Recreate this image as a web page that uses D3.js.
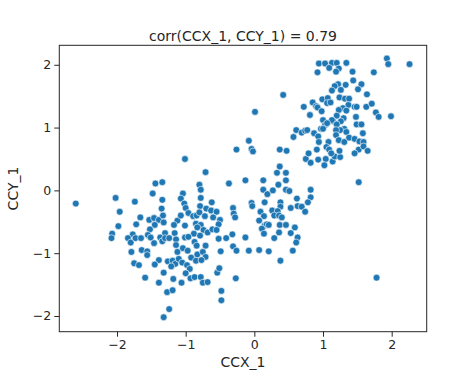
<!DOCTYPE html>
<html><head><meta charset="utf-8">
<script src="https://cdn.jsdelivr.net/npm/d3@7"></script>
<style>body{margin:0;background:#fff}svg{display:block}text{font-family:"DejaVu Sans",sans-serif}</style>
</head><body>
<script>
const title = "corr(CCX_1, CCY_1) = 0.79";
const xLabel = "CCX_1";
const yLabel = "CCY_1";
const xTicks = [-2, -1, 0, 1, 2];
const yTicks = [-2, -1, 0, 1, 2];
const xs = [
-2.60,-1.01,-0.26,-0.08,-0.71,-1.44,-1.34,-0.37,-0.13,-2.02,-1.74,-1.48,-1.34,-1.04,-1.07,-0.80,-0.78,-0.78,-0.62,-1.96,
-1.35,-1.02,-1.00,-0.79,-0.70,-0.63,-0.55,-0.31,-0.30,-0.28,-1.66,-1.53,-1.46,-1.39,-1.33,-1.32,-1.12,-1.17,-1.07,-0.96,
-0.89,-0.84,-0.80,-0.72,-0.60,-0.50,-0.52,-1.72,-1.98,-1.45,-1.52,-1.01,-0.85,-0.78,-0.83,-0.74,-0.68,-0.61,-0.55,-1.77,
-1.55,-1.30,-1.16,-0.88,-0.32,-2.07,-2.08,-1.84,-1.80,-1.73,-1.65,-1.51,-1.46,-1.37,-1.34,-1.30,-1.24,-1.14,-1.14,-1.01,
-0.96,-0.87,-0.79,-0.52,-0.41,-0.13,-1.79,-1.64,-1.56,-1.56,-1.12,-1.04,-0.97,-0.84,-0.71,-0.83,-0.75,-0.71,-0.92,-0.85,
-0.77,-0.49,-0.31,-0.26,-0.08,-1.75,-1.68,-1.39,-1.45,-1.26,-1.19,-1.15,-1.21,-1.10,-1.05,-0.98,-0.94,-1.00,-1.32,-1.59,
-1.39,-1.18,-1.06,-0.93,-0.87,-0.78,-0.75,-0.68,-0.54,-0.51,-0.27,-0.48,-0.48,-1.27,-1.19,-1.24,-1.32,
0.75,0.82,0.93,1.04,1.02,1.14,1.17,1.25,1.52,0.37,0.33,0.46,0.13,0.46,0.35,0.13,0.19,0.27,0.46,0.51,
0.82,0.82,0.62,0.78,-0.04,-0.03,0.15,0.38,0.38,0.53,0.63,0.69,0.74,0.09,0.26,0.34,0.29,0.36,0.40,0.14,
0.07,0.15,0.18,0.21,0.37,0.46,0.59,0.11,0.14,0.36,0.53,0.63,0.61,0.29,0.07,0.21,0.56,0.38,1.78,
0.94,1.03,1.13,1.20,1.34,1.09,1.23,1.19,0.92,1.43,1.74,1.93,1.95,2.26,1.44,1.22,1.17,1.33,1.56,1.51,
1.13,1.26,1.64,0.42,1.24,1.32,1.38,0.99,1.07,1.06,1.11,0.85,0.72,0.90,0.92,1.37,1.29,1.23,1.34,1.46,
1.49,1.63,1.71,0.98,1.77,1.81,1.99,0.01,0.81,1.20,1.30,1.48,1.15,1.26,1.00,1.13,1.03,1.20,1.49,1.56,
1.06,0.97,1.00,1.31,1.25,1.19,1.34,0.61,0.69,0.74,0.77,0.87,0.93,0.57,1.19,1.38,1.46,1.58,1.53,1.59,
1.23,1.31,0.94,1.08,1.05,1.09,0.91,0.79,1.12,1.24,1.52,1.59,1.65,0.37,0.47,-0.04,-0.02,1.46
];
const ys = [
-0.21,0.50,0.65,0.79,0.29,0.11,0.13,0.11,0.16,-0.12,-0.18,-0.05,-0.15,-0.05,-0.13,0.09,0.01,-0.12,-0.19,-0.34,
-0.29,-0.21,-0.28,-0.25,-0.29,-0.32,-0.34,-0.28,-0.37,-0.43,-0.43,-0.47,-0.44,-0.47,-0.40,-0.51,-0.48,-0.55,-0.40,-0.36,
-0.41,-0.40,-0.35,-0.41,-0.43,-0.47,-0.54,-0.54,-0.57,-0.55,-0.62,-0.56,-0.53,-0.55,-0.59,-0.63,-0.67,-0.62,-0.63,-0.70,
-0.71,-0.68,-0.68,-0.69,-0.70,-0.69,-0.76,-0.76,-0.83,-0.76,-0.76,-0.75,-0.84,-0.75,-0.81,-0.76,-0.76,-0.78,-0.87,-0.75,
-0.74,-0.82,-0.72,-0.77,-0.76,-0.75,-0.98,-0.95,-0.97,-1.03,-0.98,-0.92,-0.96,-0.88,-0.88,-1.02,-0.98,-1.06,-1.07,-1.12,
-1.11,-0.97,-0.89,-0.96,-0.96,-1.16,-1.19,-1.11,-1.18,-1.13,-1.12,-1.17,-1.21,-1.09,-1.15,-1.19,-1.25,-1.32,-1.31,-1.39,
-1.47,-1.41,-1.47,-1.40,-1.38,-1.38,-1.47,-1.46,-1.31,-1.24,-1.40,-1.60,-1.75,-1.62,-1.59,-1.89,-2.02,
0.50,0.44,0.49,0.50,0.40,0.46,0.54,0.53,0.13,0.38,0.28,0.28,0.16,0.16,0.09,0.01,-0.06,0.00,0.01,-0.01,
0.01,-0.11,-0.13,-0.19,-0.20,-0.25,-0.19,-0.19,-0.26,-0.28,-0.25,-0.26,-0.34,-0.34,-0.32,-0.33,-0.40,-0.40,-0.43,-0.41,
-0.48,-0.56,-0.54,-0.55,-0.55,-0.55,-0.59,-0.61,-0.69,-0.67,-0.68,-0.75,-0.83,-0.76,-0.95,-0.97,-0.96,-1.12,-1.39,
2.02,2.02,2.03,2.03,2.03,1.95,1.94,1.89,1.88,1.89,1.88,2.10,2.01,2.01,1.75,1.69,1.66,1.68,1.69,1.61,
1.59,1.60,1.53,1.52,1.48,1.46,1.46,1.45,1.47,1.39,1.40,1.40,1.33,1.34,1.32,1.36,1.31,1.28,1.27,1.33,
1.33,1.33,1.38,1.26,1.24,1.17,1.18,1.25,1.20,1.19,1.15,1.17,1.10,1.10,1.12,1.12,1.04,1.05,1.05,1.05,
1.07,0.98,0.98,0.98,0.96,0.96,0.93,0.96,0.92,0.95,0.96,0.91,0.86,0.85,0.88,0.84,0.82,0.91,0.78,0.77,
0.80,0.77,0.77,0.77,0.69,0.65,0.65,0.59,0.59,0.63,0.65,0.70,0.63,0.65,0.63,0.66,0.62,0.59
];

const W = 474, H = 379;
const L = 59.3, T = 45.3, PW = 367.4, PH = 286.4;
const ink = "#262626";
const svg = d3.select("body").append("svg").attr("width", W).attr("height", H);
const x = d3.scaleLinear().domain([-2.84, 2.51]).range([L, L + PW]);
const y = d3.scaleLinear().domain([-2.25, 2.31]).range([T + PH, T]);

const fmt = d => d < 0 ? "\u2212" + Math.abs(d) : String(d);

const gx = svg.append("g").attr("transform", `translate(0,${T + PH})`)
  .call(d3.axisBottom(x).tickValues(xTicks).tickFormat(fmt).tickSize(5).tickPadding(3));
const gy = svg.append("g").attr("transform", `translate(${L},0)`)
  .call(d3.axisLeft(y).tickValues(yTicks).tickFormat(fmt).tickSize(5).tickPadding(3));
[gx, gy].forEach(g => {
  g.select(".domain").remove();
  g.selectAll("line").attr("stroke", ink).attr("stroke-width", 1);
  g.selectAll("text").attr("fill", ink).style("font-size", "12.5px").style("font-family", "DejaVu Sans");
});

svg.append("rect").attr("x", L).attr("y", T).attr("width", PW).attr("height", PH)
  .attr("fill", "none").attr("stroke", ink).attr("stroke-width", 1);

const pts = xs.map((v, i) => ({x: v, y: ys[i]}));
svg.append("g").selectAll("circle").data(pts).join("circle")
  .attr("cx", d => x(d.x)).attr("cy", d => y(d.y)).attr("r", 3.4)
  .attr("fill", "#1f77b4").attr("stroke", "#fff").attr("stroke-width", 0.6);

svg.append("text").attr("x", L + PW / 2).attr("y", 41).attr("text-anchor", "middle")
  .attr("fill", ink).style("font-size", "14px").text(title);
svg.append("text").attr("x", L + PW / 2).attr("y", 367).attr("text-anchor", "middle")
  .attr("fill", ink).style("font-size", "14px").text(xLabel);
svg.append("text").attr("transform", `translate(18,${T + PH / 2}) rotate(-90)`).attr("text-anchor", "middle")
  .attr("fill", ink).style("font-size", "14px").text(yLabel);
</script>
</body></html>
